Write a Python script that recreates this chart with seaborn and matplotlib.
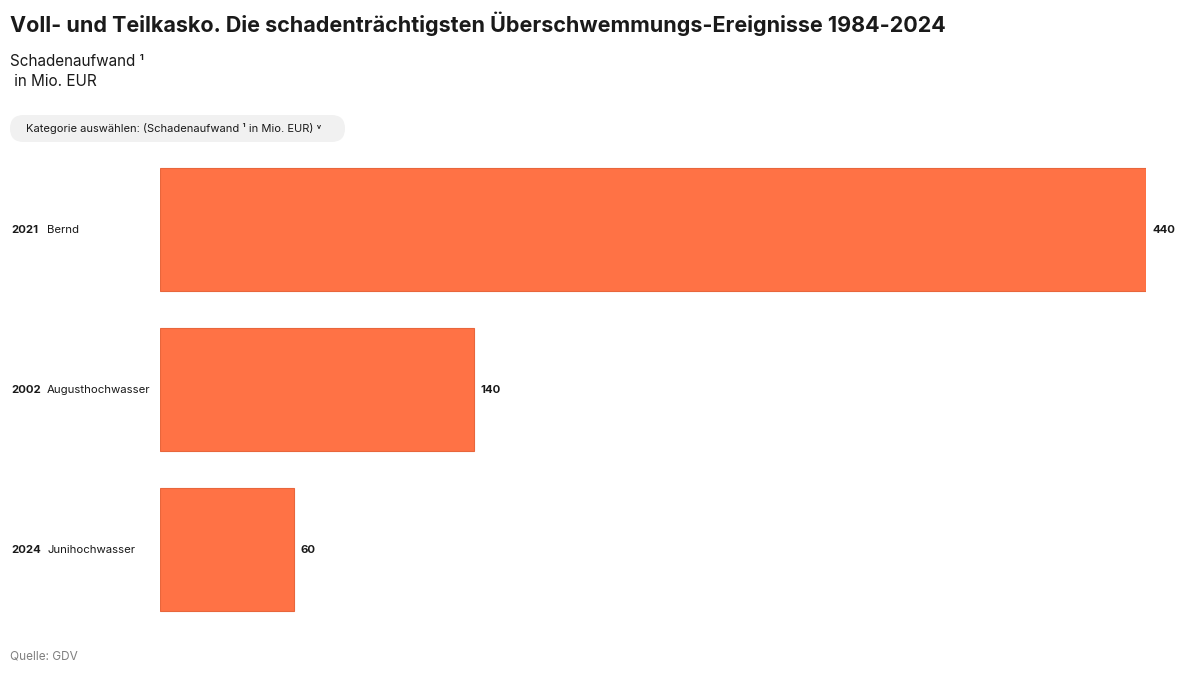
import pandas as pd
import matplotlib.pyplot as plt
import seaborn as sns
from matplotlib.patches import FancyBboxPatch
from matplotlib.transforms import blended_transform_factory

years = ["2021", "2002", "2024"]
events = ["Bernd", "Augusthochwasser", "Junihochwasser"]
damage = [440, 140, 60]

df = pd.DataFrame({"year": years, "event": events, "damage": damage})
df["key"] = df["year"] + " " + df["event"]

sns.set_theme(style="white")
plt.rcParams["font.family"] = ["Inter", "DejaVu Sans"]

BAR = "#FF7245"
DARK = "#1a1a1a"

fig = plt.figure(figsize=(12, 6.75), dpi=100)
ax = fig.add_axes([160 / 1200, 1 - 629.5 / 675, 986 / 1200, 480 / 675])

sns.barplot(data=df, x="damage", y="key", orient="h", color=BAR,
            width=0.77, edgecolor="#E8663C", linewidth=0.8, saturation=1, ax=ax)

ax.set_xlim(0, max(damage))
ax.set_ylim(len(df) - 0.5, -0.5)
ax.set_xlabel("")
ax.set_ylabel("")
ax.set_xticks([])
ax.set_yticks([])
sns.despine(ax=ax, left=True, bottom=True)

# category labels left of the bars
trans = blended_transform_factory(fig.transFigure, ax.transData)
for i, row in df.iterrows():
    ax.text(11 / 1200, i, row["year"], transform=trans, ha="left", va="center",
            fontsize=8.2, fontweight="bold", color=DARK)
    ax.text(47 / 1200, i, row["event"], transform=trans, ha="left", va="center",
            fontsize=8.2, color=DARK)
    ax.annotate(f"{row['damage']}", xy=(row["damage"], i), xytext=(4.5, 0),
                textcoords="offset points", ha="left", va="center",
                fontsize=8.2, fontweight="bold", color=DARK, annotation_clip=False)

fig.text(10 / 1200, 1 - 24 / 675,
         "Voll- und Teilkasko. Die schadenträchtigsten Überschwemmungs-Ereignisse 1984-2024",
         ha="left", va="center", fontsize=15.5, fontweight="bold", color=DARK)
fig.text(10 / 1200, 1 - 62 / 675, "Schadenaufwand ¹", ha="left", va="center",
         fontsize=11, color=DARK)
fig.text(10 / 1200, 1 - 82 / 675, " in Mio. EUR", ha="left", va="center",
         fontsize=11, color=DARK)

# dropdown-style pill
pill = FancyBboxPatch((10 / 1200, 1 - 142 / 675), 335 / 1200, 27 / 675,
                      boxstyle="round,pad=0,rounding_size=0.01125",
                      transform=fig.transFigure, facecolor="#F1F1F1",
                      edgecolor="none", mutation_aspect=1200 / 675)
fig.patches.append(pill)
fig.text(26 / 1200, 1 - 128.5 / 675,
         "Kategorie auswählen: (Schadenaufwand ¹ in Mio. EUR) ˅",
         ha="left", va="center", fontsize=8, color=DARK)

fig.text(10 / 1200, 1 - 656 / 675, "Quelle: GDV", ha="left", va="center",
         fontsize=8.5, color="#808080")

fig.savefig("out.png", dpi=100)
plt.close(fig)
